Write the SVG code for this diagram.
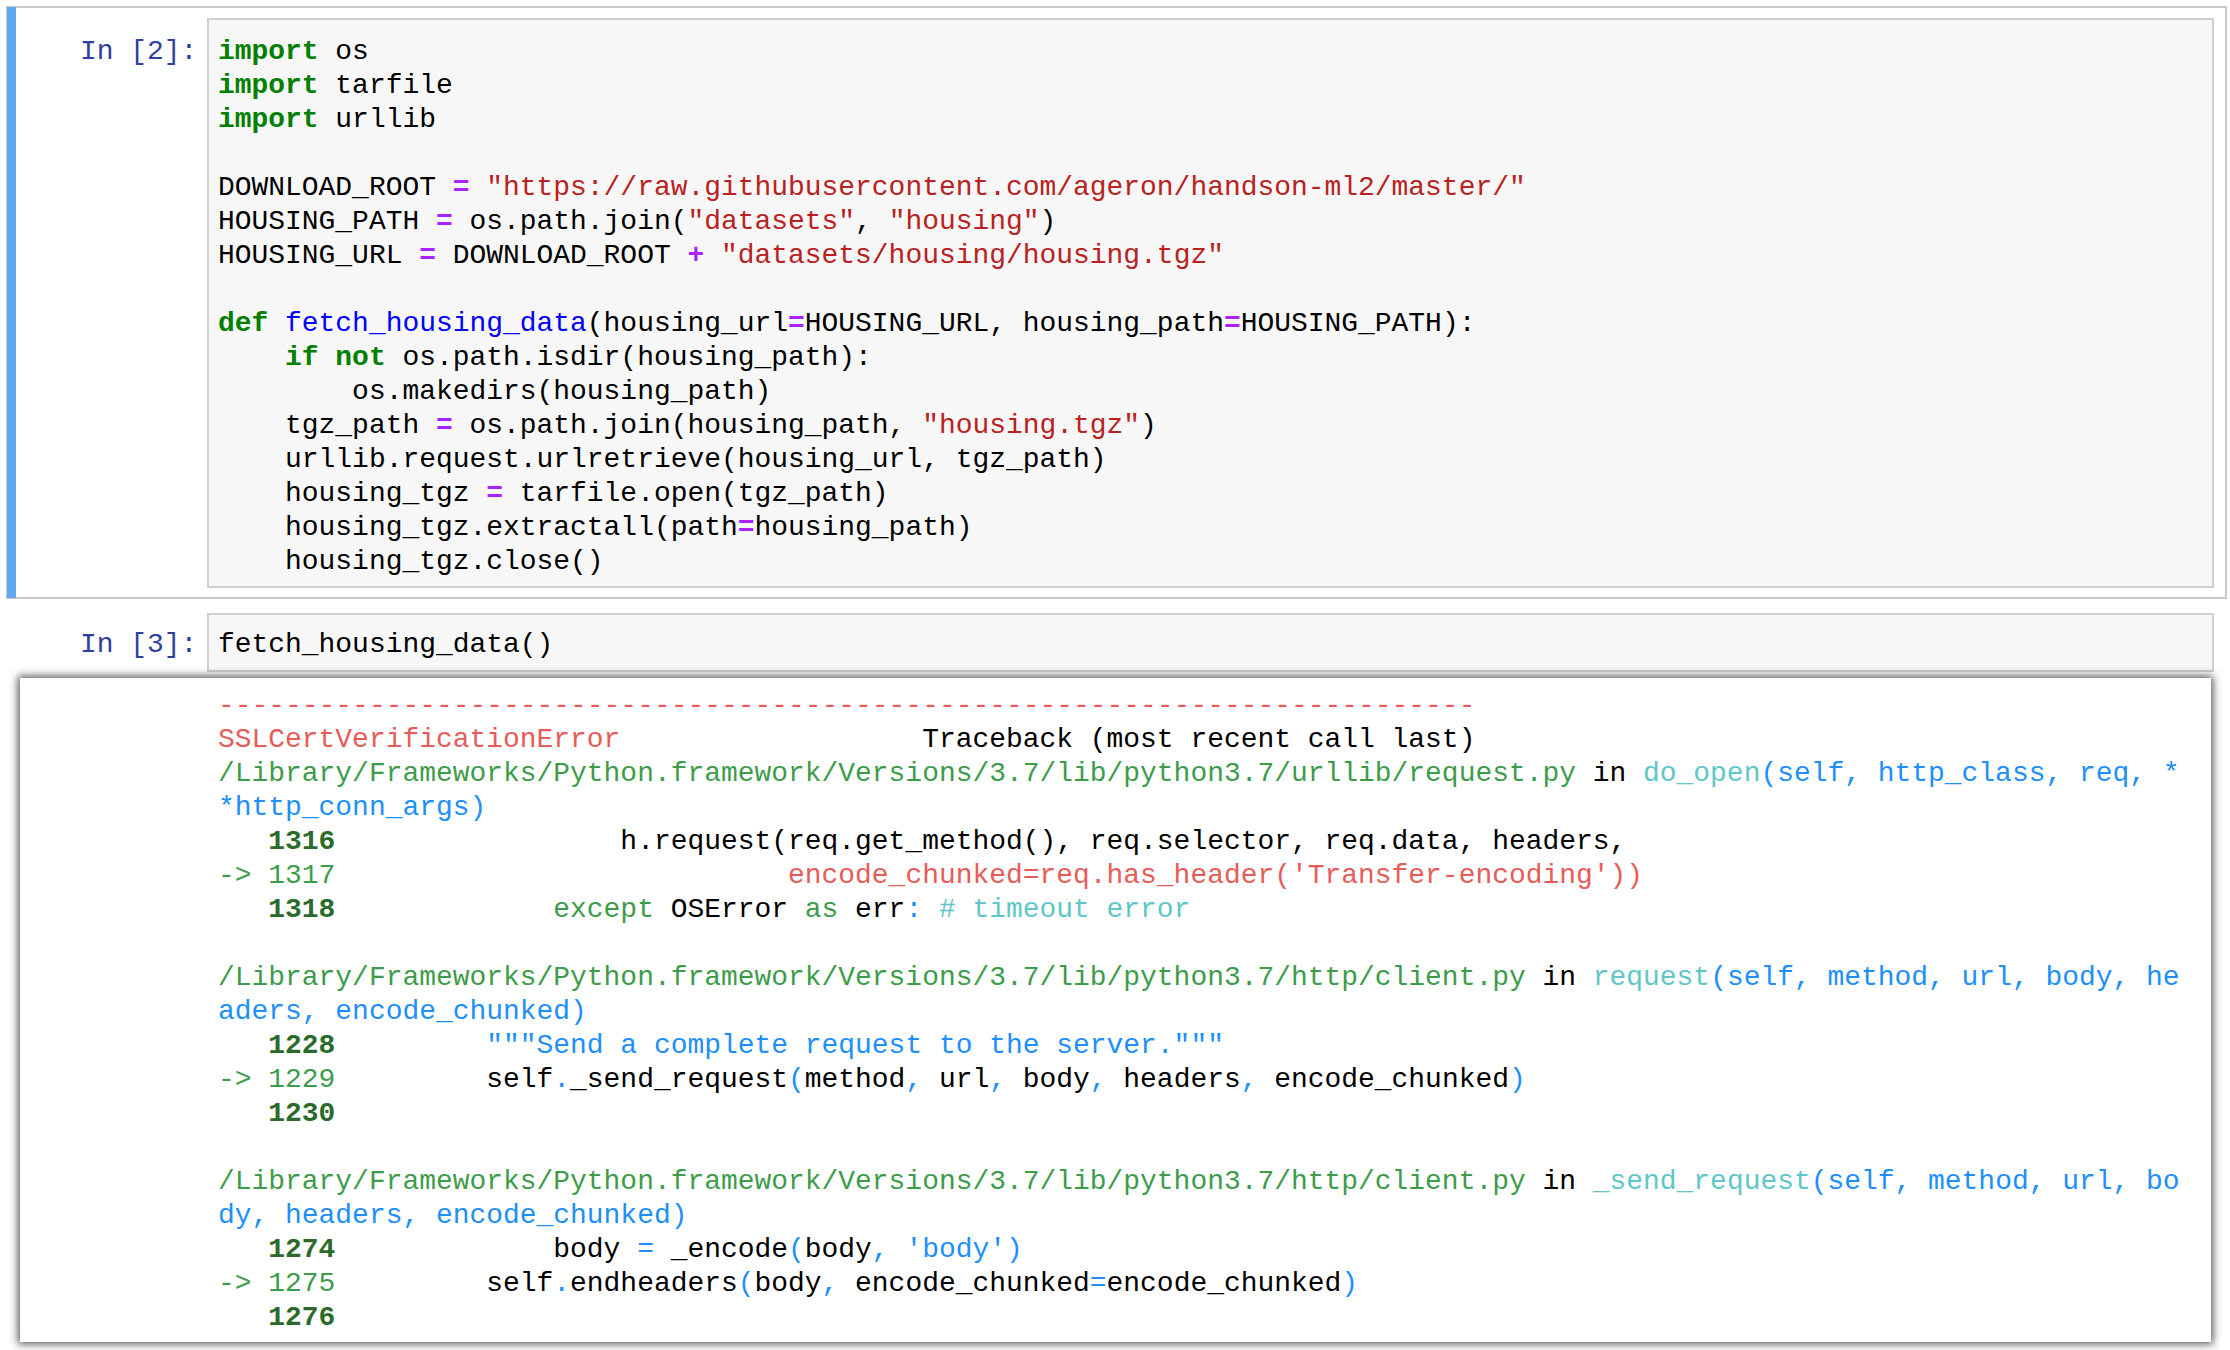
<svg xmlns="http://www.w3.org/2000/svg" width="2230" height="1350" viewBox="0 0 2230 1350">
<style>
text{font-family:"Liberation Mono",monospace;font-size:27.95px;white-space:pre;fill:#000}
.p{fill:#303f9f}
.k{fill:#008000;font-weight:bold}
.f{fill:#0000ff}
.s{fill:#ba2121}
.o{fill:#aa22ff;font-weight:bold}
.r{fill:#e75c58}
.g{fill:#3d9c4a}
.c{fill:#60c6c8}
.b{fill:#208ffb}
.n{fill:#2b6a2b;font-weight:bold}
</style>
<defs>
<filter id="sh" x="-5%" y="-5%" width="110%" height="110%"><feGaussianBlur stdDeviation="4"/></filter>
</defs>
<g id="cell1">
<rect x="7" y="7" width="2219" height="591" fill="#fff" stroke="#c9c9c9" stroke-width="2"/>
<rect x="7" y="7" width="9" height="591" fill="#5ea7ef"/>
<rect x="208" y="19" width="2005" height="568" fill="#f7f7f7" stroke="#cfcfcf" stroke-width="2"/>
<text class="p" x="80" y="59">In [2]:</text>
<text x="218" y="59"><tspan class="k">import</tspan> os</text>
<text x="218" y="93"><tspan class="k">import</tspan> tarfile</text>
<text x="218" y="127"><tspan class="k">import</tspan> urllib</text>
<text x="218" y="195">DOWNLOAD_ROOT <tspan class="o">=</tspan> <tspan class="s">"https://raw.githubusercontent.com/ageron/handson-ml2/master/"</tspan></text>
<text x="218" y="229">HOUSING_PATH <tspan class="o">=</tspan> os.path.join(<tspan class="s">"datasets"</tspan>, <tspan class="s">"housing"</tspan>)</text>
<text x="218" y="263">HOUSING_URL <tspan class="o">=</tspan> DOWNLOAD_ROOT <tspan class="o">+</tspan> <tspan class="s">"datasets/housing/housing.tgz"</tspan></text>
<text x="218" y="331"><tspan class="k">def</tspan> <tspan class="f">fetch_housing_data</tspan>(housing_url<tspan class="o">=</tspan>HOUSING_URL, housing_path<tspan class="o">=</tspan>HOUSING_PATH):</text>
<text x="218" y="365">    <tspan class="k">if</tspan> <tspan class="k">not</tspan> os.path.isdir(housing_path):</text>
<text x="218" y="399">        os.makedirs(housing_path)</text>
<text x="218" y="433">    tgz_path <tspan class="o">=</tspan> os.path.join(housing_path, <tspan class="s">"housing.tgz"</tspan>)</text>
<text x="218" y="467">    urllib.request.urlretrieve(housing_url, tgz_path)</text>
<text x="218" y="501">    housing_tgz <tspan class="o">=</tspan> tarfile.open(tgz_path)</text>
<text x="218" y="535">    housing_tgz.extractall(path<tspan class="o">=</tspan>housing_path)</text>
<text x="218" y="569">    housing_tgz.close()</text>
</g>
<g id="cell2">
<rect x="208" y="614" width="2005" height="57" fill="#f7f7f7" stroke="#cfcfcf" stroke-width="2"/>
<text class="p" x="80" y="652">In [3]:</text>
<text x="218" y="652">fetch_housing_data()</text>
</g>
<g id="output">
<rect x="18" y="676" width="2195" height="668" fill="#555" filter="url(#sh)"/>
<rect x="20" y="678" width="2191" height="664" fill="#fff"/>
<text class="r" x="218" y="713">---------------------------------------------------------------------------</text>
<text x="218" y="747"><tspan class="r">SSLCertVerificationError</tspan>                  Traceback (most recent call last)</text>
<text x="218" y="781"><tspan class="g">/Library/Frameworks/Python.framework/Versions/3.7/lib/python3.7/urllib/request.py</tspan> in <tspan class="c">do_open</tspan><tspan class="b">(self, http_class, req, *</tspan></text>
<text class="b" x="218" y="815">*http_conn_args)</text>
<text x="218" y="849"><tspan class="n">   1316</tspan>                 h.request(req.get_method(), req.selector, req.data, headers,</text>
<text x="218" y="883"><tspan class="g">-&gt; 1317</tspan> <tspan class="r">                          encode_chunked=req.has_header('Transfer-encoding'))</tspan></text>
<text x="218" y="917"><tspan class="n">   1318</tspan>             <tspan class="g">except</tspan> OSError <tspan class="g">as</tspan> err<tspan class="b">:</tspan> <tspan class="c"># timeout error</tspan></text>
<text x="218" y="985"><tspan class="g">/Library/Frameworks/Python.framework/Versions/3.7/lib/python3.7/http/client.py</tspan> in <tspan class="c">request</tspan><tspan class="b">(self, method, url, body, he</tspan></text>
<text class="b" x="218" y="1019">aders, encode_chunked)</text>
<text x="218" y="1053"><tspan class="n">   1228</tspan>         <tspan class="b">"""Send a complete request to the server."""</tspan></text>
<text x="218" y="1087"><tspan class="g">-&gt; 1229</tspan>         self<tspan class="b">.</tspan>_send_request<tspan class="b">(</tspan>method<tspan class="b">,</tspan> url<tspan class="b">,</tspan> body<tspan class="b">,</tspan> headers<tspan class="b">,</tspan> encode_chunked<tspan class="b">)</tspan></text>
<text x="218" y="1121"><tspan class="n">   1230</tspan></text>
<text x="218" y="1189"><tspan class="g">/Library/Frameworks/Python.framework/Versions/3.7/lib/python3.7/http/client.py</tspan> in <tspan class="c">_send_request</tspan><tspan class="b">(self, method, url, bo</tspan></text>
<text class="b" x="218" y="1223">dy, headers, encode_chunked)</text>
<text x="218" y="1257"><tspan class="n">   1274</tspan>             body <tspan class="b">=</tspan> _encode<tspan class="b">(</tspan>body<tspan class="b">,</tspan> <tspan class="b">'body')</tspan></text>
<text x="218" y="1291"><tspan class="g">-&gt; 1275</tspan>         self<tspan class="b">.</tspan>endheaders<tspan class="b">(</tspan>body<tspan class="b">,</tspan> encode_chunked<tspan class="b">=</tspan>encode_chunked<tspan class="b">)</tspan></text>
<text x="218" y="1325"><tspan class="n">   1276</tspan></text>
</g>
</svg>
